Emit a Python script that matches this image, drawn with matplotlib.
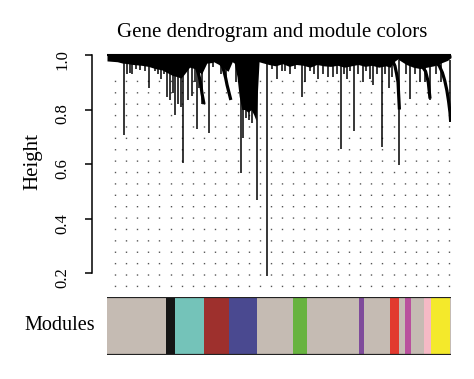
import numpy as np
import matplotlib.pyplot as plt

plt.rcParams['font.family'] = ['Liberation Serif', 'DejaVu Serif']

# Module colour bar (leaf counts, left to right)
module_colors = ['#C5BBB3', '#151515', '#74C3B9', '#9E302D', '#4A4990', '#C5BBB3',
                 '#68B33F', '#C5BBB3', '#7F4B9B', '#C5BBB3', '#E23A2F', '#C5BBB3',
                 '#B9509D', '#C5BBB3', '#F5B9C5', '#F4E92B', '#C5BBB3']
module_sizes = [172, 26, 84, 73, 81, 105, 40, 152, 14, 76, 27, 16, 18, 38, 20, 55, 3]

# Lower edge of the dense top of the dendrogram
band_x = [0, 30, 45, 60, 75, 100, 120, 140, 160, 175, 190, 205, 215, 225,
          240, 255, 265, 275, 290, 305,
          310, 325, 340, 352, 364,
          370, 378, 384, 392, 401, 410, 419, 427, 433, 438, 442,
          450, 470, 490, 510, 530, 550, 570, 590, 610, 630, 650, 670, 690,
          710, 730, 750, 770, 790, 810, 823, 834,
          845, 870, 890, 910, 930, 950, 970, 990, 1000]
band_h = [0.978, 0.975, 0.97, 0.968, 0.965, 0.962, 0.958, 0.95, 0.945, 0.935, 0.925, 0.92, 0.915, 0.93,
          0.955, 0.95, 0.94, 0.93, 0.97, 0.972,
          0.975, 0.965, 0.95, 0.94, 0.975,
          0.97, 0.92, 0.85, 0.8, 0.8, 0.79, 0.8, 0.78, 0.76, 0.88, 0.975,
          0.972, 0.965, 0.96, 0.968, 0.958, 0.965, 0.962, 0.955, 0.965, 0.96, 0.958, 0.962, 0.955,
          0.96, 0.965, 0.958, 0.962, 0.955, 0.96, 0.955, 0.975,
          0.985, 0.965, 0.955, 0.95, 0.955, 0.96, 0.97, 0.98, 0.99]

# Curved tails of tight clusters (leaf position, height)
tail1_x = [222, 235, 247, 256, 261, 266, 270, 273, 276, 279, 282]
tail1_h = [0.99, 0.985, 0.975, 0.96, 0.95, 0.93, 0.91, 0.89, 0.86, 0.84, 0.82]
tail2_x = [300, 315, 328, 335, 340, 345, 349, 352, 355, 358, 360]
tail2_h = [0.99, 0.985, 0.975, 0.96, 0.94, 0.915, 0.89, 0.875, 0.86, 0.845, 0.835]
tail3_x = [818, 828, 837, 842, 846, 848, 850]
tail3_h = [0.99, 0.985, 0.96, 0.93, 0.9, 0.85, 0.8]
tail4_x = [855, 880, 900, 915, 926, 934, 939]
tail4_h = [0.99, 0.985, 0.975, 0.96, 0.94, 0.9, 0.84]
tail5_x = [920, 940, 955, 966, 975, 982, 988, 993, 997, 999]
tail5_h = [0.99, 0.985, 0.975, 0.96, 0.935, 0.905, 0.87, 0.83, 0.79, 0.755]

# Branches hanging below the top (leaf position, merge height)
drop_x = [49, 58, 67, 73, 85, 95, 110, 122, 140, 148, 157, 165, 174, 183, 192, 198, 206, 215,
          222, 235, 246, 255, 261, 268, 275, 297, 308, 330, 345,
          375, 389, 395, 404, 413, 421, 430, 437, 464, 480, 494, 509, 517, 532, 547, 566, 576,
          590, 602, 613, 628, 642, 657, 669, 679, 689, 698, 706, 718, 730, 744, 753, 765, 773,
          785, 799, 808, 820, 828, 849, 870, 881, 895, 910, 925, 939, 955, 970, 997]
drop_h = [0.707, 0.93, 0.935, 0.93, 0.95, 0.945, 0.94, 0.88, 0.94, 0.93, 0.91, 0.93, 0.845, 0.835,
          0.86, 0.78, 0.82, 0.81, 0.604, 0.835, 0.85, 0.9, 0.73, 0.88, 0.82, 0.714, 0.955, 0.93, 0.9,
          0.9, 0.568, 0.695, 0.77, 0.76, 0.75, 0.8, 0.469, 0.19, 0.95, 0.91, 0.94, 0.94, 0.93, 0.95,
          0.845, 0.9, 0.94, 0.93, 0.91, 0.93, 0.92, 0.92, 0.93, 0.656, 0.93, 0.91, 0.94, 0.72,
          0.93, 0.9, 0.94, 0.91, 0.89, 0.93, 0.664, 0.93, 0.88, 0.92, 0.597, 0.93, 0.84, 0.93,
          0.9, 0.9, 0.835, 0.93, 0.9, 0.755]

n_leaves = sum(module_sizes)

fig = plt.figure(figsize=(4.74, 3.79), dpi=100)
ax = fig.add_axes([107 / 474, 82 / 379, 344 / 474, 247 / 379])
axc = fig.add_axes([107 / 474, 24 / 379, 344 / 474, 58 / 379])

# guide lines
guide_x = np.arange(23, n_leaves, 32.4)
ax.vlines(guide_x, 0.11, 0.925, colors='#555555', linewidth=1.0,
          linestyles=(0, (1.0, 7.2)), zorder=1)

# dendrogram
ax.fill_between(band_x, band_h, 1.0, color='black', linewidth=0, zorder=2)
ax.hlines(1.0, 0, n_leaves, colors='black', linewidth=1.5, zorder=3)
for tx, th in [(tail1_x, tail1_h), (tail2_x, tail2_h), (tail3_x, tail3_h),
               (tail4_x, tail4_h), (tail5_x, tail5_h)]:
    ax.plot(tx, th, color='black', linewidth=2.3, solid_capstyle='butt', zorder=3)
ax.vlines(drop_x, drop_h, 0.98, colors='black', linewidth=1.1, zorder=3)

ax.set_xlim(0, n_leaves)
ax.set_ylim(0.1136, 1.018)
ax.set_xticks([])
ax.set_yticks([0.2, 0.4, 0.6, 0.8, 1.0])
ax.set_yticklabels(['0.2', '0.4', '0.6', '0.8', '1.0'])
ax.tick_params(axis='y', length=5, width=1.1, pad=11, labelsize=12, labelrotation=90)
for lab in ax.get_yticklabels():
    lab.set_va('center')
for s in ['top', 'right', 'bottom']:
    ax.spines[s].set_visible(False)
ax.spines['left'].set_bounds(0.2, 1.0)
ax.spines['left'].set_position(('outward', 10.5))
ax.spines['left'].set_linewidth(1.1)

# module colours
lefts = np.concatenate([[0], np.cumsum(module_sizes)[:-1]])
axc.bar(lefts, 1, width=module_sizes, align='edge', color=module_colors, linewidth=0)
axc.axhline(1, color='#222222', linewidth=1.6)
axc.axhline(0, color='#222222', linewidth=1.6)
axc.set_xlim(0, n_leaves)
axc.set_ylim(0, 1)
axc.axis('off')

fig.text(272 / 474, 1 - 32 / 379, 'Gene dendrogram and module colors',
         ha='center', va='center', fontsize=15)
fig.text(33 / 474, 1 - 162 / 379, 'Height', rotation=90,
         ha='center', va='center', fontsize=15)
fig.text(60 / 474, 1 - 325 / 379, 'Modules', ha='center', va='center', fontsize=14.5)

fig.savefig('out.png', dpi=100)
